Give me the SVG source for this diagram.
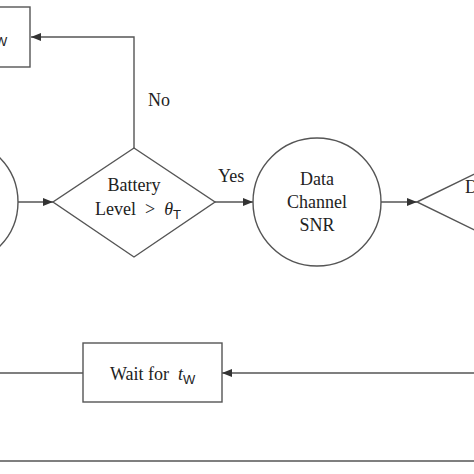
<svg xmlns="http://www.w3.org/2000/svg" width="474" height="474" viewBox="0 0 474 474">
<style>
.s{fill:#fff;stroke:#555;stroke-width:1.4}
.c{fill:none;stroke:#555;stroke-width:1.4}
.t{font-family:"Liberation Serif","Times New Roman",serif;font-size:18px;fill:#222}
.sub{font-family:"Liberation Sans",Arial,sans-serif;font-size:13px}
</style>
<defs>
<marker id="ah" markerWidth="10" markerHeight="8" refX="10" refY="4" orient="auto" markerUnits="userSpaceOnUse">
<path d="M0,0 L10,4 L0,8 Z" fill="#333"/>
</marker>
</defs>
<rect width="474" height="474" fill="#fff"/>
<g id="connectors">
<polyline class="c" points="134,148 134,37 31,37" marker-end="url(#ah)"/>
<line class="c" x1="18" y1="202" x2="53" y2="202" marker-end="url(#ah)"/>
<line class="c" x1="215" y1="202" x2="253" y2="202" marker-end="url(#ah)"/>
<line class="c" x1="381" y1="202" x2="417" y2="202" marker-end="url(#ah)"/>
<line class="c" x1="0" y1="373" x2="83" y2="373"/>
<line class="c" x1="474" y1="373" x2="222" y2="373" marker-end="url(#ah)"/>
<line class="c" x1="0" y1="461" x2="474" y2="461"/>
<text class="t" x="148" y="106">No</text>
<text class="t" x="218" y="182">Yes</text>
</g>
<g id="box-top">
<rect class="s" x="-60" y="7" width="90" height="60"/>
<text class="t" x="-10" y="42"><tspan font-style="italic">t</tspan><tspan class="sub" dy="4">W</tspan></text>
</g>
<g id="circle-left">
<circle class="s" cx="-45" cy="202" r="63"/>
</g>
<g id="diamond-battery">
<polygon class="s" points="134,148 215,202 134,257 53,202"/>
<text class="t" x="134" y="191" text-anchor="middle">Battery</text>
<text class="t" x="95" y="215" xml:space="preserve">Level  &gt;  <tspan font-style="italic">θ</tspan><tspan class="sub" dy="4">T</tspan></text>
</g>
<g id="circle-snr">
<circle class="s" cx="317" cy="202" r="64"/>
<text class="t" x="317" y="185" text-anchor="middle">Data</text>
<text class="t" x="317" y="208" text-anchor="middle">Channel</text>
<text class="t" x="317" y="231" text-anchor="middle">SNR</text>
</g>
<g id="diamond-right">
<polygon class="s" points="417,202 530,147 643,202 530,257"/>
<text class="t" x="465" y="193">Data</text>
</g>
<g id="box-wait">
<rect class="s" x="83" y="343" width="139" height="59"/>
<text class="t" x="110" y="380" xml:space="preserve">Wait for  <tspan font-style="italic">t</tspan><tspan class="sub" dy="4">W</tspan></text>
</g>
</svg>
